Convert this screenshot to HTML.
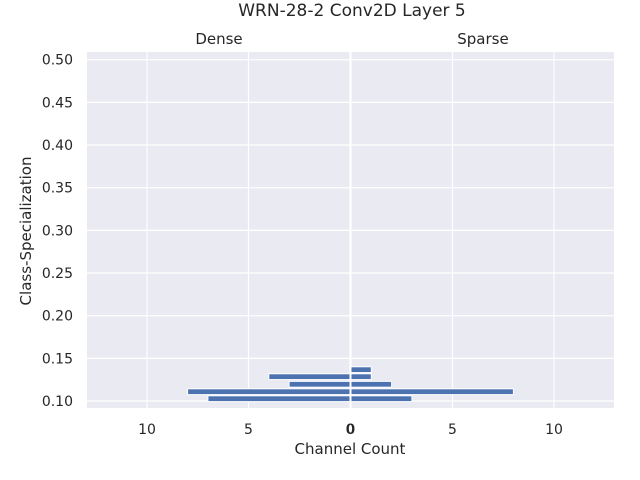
<!DOCTYPE html>
<html><head><meta charset="utf-8"><style>
body{margin:0;background:#fff;}
svg{display:block;font-family:"DejaVu Sans","Liberation Sans",sans-serif;}
</style></head><body>
<svg id="chart" width="640" height="480"></svg>
<script>
const binCenters=[0.1027,0.1109,0.1196,0.1285,0.1367];
const denseCounts=[7,8,3,4,0];
const sparseCounts=[3,8,2,1,1];
const xTicks=[0,5,10];
const yTicks=[0.10,0.15,0.20,0.25,0.30,0.35,0.40,0.45,0.50];
const NS="http://www.w3.org/2000/svg";
const svg=document.getElementById('chart');
function mk(t,a,p){const e=document.createElementNS(NS,t);for(const k in a)e.setAttribute(k,a[k]);(p||svg).appendChild(e);return e;}
const plotTop=52,plotBot=408,yMin=0.0918,yMax=0.509;
const yScale=v=>plotBot-(v-yMin)/(yMax-yMin)*(plotBot-plotTop);
const pxPer=20.3;
const panels=[{x0:87,x1:350,zero:350,dir:-1,data:denseCounts,title:'Dense'},{x0:351,x1:614,zero:351,dir:1,data:sparseCounts,title:'Sparse'}];
const ttl=mk('text',{x:352,y:16,'text-anchor':'middle','font-size':'17',fill:'#262626'});


ttl.textContent='WRN-28-2 Conv2D Layer 5';
panels.forEach((P,i)=>{
  const g=mk('g',{});
  
  
  mk('rect',{x:P.x0,y:plotTop,width:P.x1-P.x0,height:plotBot-plotTop,fill:'#eaeaf2'},g);
  const xs=v=>P.zero+P.dir*v*pxPer;
  xTicks.forEach(v=>{
    mk('line',{x1:xs(v),x2:xs(v),y1:plotTop,y2:plotBot,stroke:'#fff','stroke-width':1.2},g);
    const tl=mk('text',{x:xs(v),y:434,'text-anchor':'middle','font-size':'14',fill:'#262626'},g);
    
    
    tl.textContent=v;
  });
  yTicks.forEach(v=>mk('line',{x1:P.x0,x2:P.x1,y1:yScale(v),y2:yScale(v),stroke:'#fff','stroke-width':1.2},g));
  const h=0.0068*(plotBot-plotTop)/(yMax-yMin);
  P.data.forEach((c,j)=>{
    if(c<=0)return;
    const xa=xs(0),xb=xs(c);
    const b=mk('rect',{x:Math.min(xa,xb),y:yScale(binCenters[j])-h/2,width:Math.abs(xb-xa),height:h,fill:'#4c72b0',stroke:'#fff','stroke-width':1},g);
    
    
  });
  const st=mk('text',{x:i?483:219,y:44,'text-anchor':'middle','font-size':'15',fill:'#262626'},g);
  
  
  st.textContent=P.title;
});
yTicks.forEach(v=>{
  const tl=mk('text',{x:73,y:yScale(v)+5,'text-anchor':'end','font-size':'14',fill:'#262626'});
  
  
  tl.textContent=v.toFixed(2);
});
const xl=mk('text',{x:350,y:454,'text-anchor':'middle','font-size':'15',fill:'#262626'});


xl.textContent='Channel Count';
const yl=mk('text',{x:31,y:231,'text-anchor':'middle','font-size':'15',fill:'#262626',transform:'rotate(-90 31 231)'});


yl.textContent='Class-Specialization';
</script>
</body></html>
